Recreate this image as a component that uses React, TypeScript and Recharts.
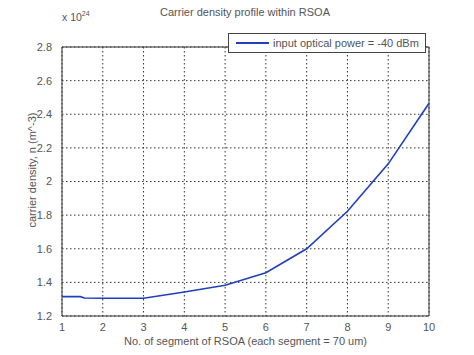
import React from "react";
import {
  LineChart,
  Line,
  XAxis,
  YAxis,
  CartesianGrid,
  ReferenceArea,
  Legend,
} from "recharts";

const segments = [1, 1.45, 1.55, 2, 3, 4, 5, 6, 7, 8, 9, 10];
const density = [1.315, 1.315, 1.307, 1.306, 1.306, 1.343, 1.383, 1.457, 1.6, 1.823, 2.105, 2.465];
const xTicks = [1, 2, 3, 4, 5, 6, 7, 8, 9, 10];
const yTicks = [1.2, 1.4, 1.6, 1.8, 2, 2.2, 2.4, 2.6, 2.8];

const data = segments.map((s, i) => ({ seg: s, n: density[i] }));

const font = "'Liberation Sans', Arial, sans-serif";
const textColor = "#555";

const LegendBox = () => (
  <div
    style={{
      border: "1px solid #444",
      background: "#fff",
      display: "flex",
      alignItems: "center",
      padding: "3px 6px 3px 7px",
      fontFamily: font,
      fontSize: 11,
      color: textColor,
      whiteSpace: "nowrap",
    }}
  >
    <span style={{ display: "inline-block", width: 33, height: 0, borderTop: "2px solid #1f3fbf", marginRight: 4 }} />
    input optical power = -40 dBm
  </div>
);

export default function App() {
  return (
    <div style={{ position: "absolute", left: 0, top: 0, width: 474, height: 355, background: "#fff", fontFamily: font }}>
      <div style={{ position: "absolute", left: 0, width: 490, top: 6, textAlign: "center", fontSize: 11, color: textColor }}>
        Carrier density profile within RSOA
      </div>
      <div style={{ position: "absolute", left: 62, top: 10, fontSize: 10.5, color: textColor }}>
        x 10<sup style={{ fontSize: 7 }}>24</sup>
      </div>
      <div
        style={{
          position: "absolute",
          left: 32 - 100,
          top: 170 - 8,
          width: 200,
          height: 16,
          lineHeight: "16px",
          textAlign: "center",
          transform: "rotate(-90deg)",
          fontSize: 11,
          color: textColor,
          whiteSpace: "nowrap",
        }}
      >
        carrier density, n (m^-3)
      </div>
      <LineChart
        width={474}
        height={355}
        data={data}
        margin={{ top: 27, right: 45, bottom: 0, left: 0 }}
      >
        <CartesianGrid stroke="#333" strokeDasharray="1.5 2.5" />
        <XAxis
          dataKey="seg"
          type="number"
          domain={[1, 10]}
          ticks={xTicks}
          allowDataOverflow
          height={39}
          tickLine={false}
          axisLine={false}
          tick={{ fill: textColor, fontSize: 11, fontFamily: font }}
          tickMargin={1}
          label={{ value: "No. of segment of RSOA (each segment = 70 um)", position: "insideBottom", offset: 10, fill: textColor, fontSize: 11, fontFamily: font }}
        />
        <YAxis
          type="number"
          domain={[1.2, 2.8]}
          ticks={yTicks}
          allowDataOverflow
          width={62}
          tickLine={false}
          axisLine={false}
          tick={{ fill: textColor, fontSize: 11, fontFamily: font }}
          tickMargin={4}
        />
        <ReferenceArea x1={1} x2={10} y1={1.2} y2={2.8} fill="none" stroke="#333" strokeWidth={1} ifOverflow="visible" />
        <Legend
          verticalAlign="top"
          align="right"
          content={() => <LegendBox />}
          wrapperStyle={{ position: "absolute", top: 33, left: 228, width: "auto" }}
        />
        <Line
          type="linear"
          dataKey="n"
          stroke="#1f3fbf"
          strokeWidth={1.6}
          dot={false}
          isAnimationActive={false}
        />
      </LineChart>
    </div>
  );
}
